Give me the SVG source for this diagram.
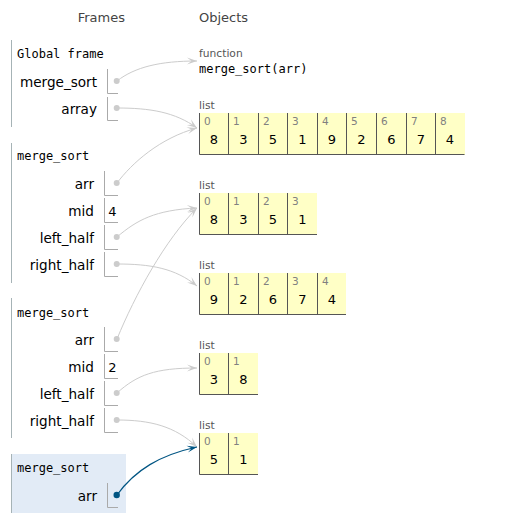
<svg xmlns="http://www.w3.org/2000/svg" width="532" height="518" viewBox="0 0 532 518">
<style>
.hdr{font-family:"DejaVu Sans",Verdana,sans-serif;font-size:13px;fill:#444}
.fname{font-family:"DejaVu Sans Mono","Liberation Mono",monospace;font-size:12px;fill:#000}
.vname{font-family:"DejaVu Sans",Verdana,sans-serif;font-size:13.6px;fill:#000;text-anchor:end}
.val{font-family:"DejaVu Sans",Verdana,sans-serif;font-size:13px;fill:#000}
.fline{stroke:#a6b3b6;stroke-width:1;fill:none}
.box{stroke:#aaaaaa;stroke-width:1;fill:none}
.dot{fill:#cccccc}
.tlabel{font-family:"DejaVu Sans",Verdana,sans-serif;font-size:10.7px;fill:#555}
.code{font-family:"DejaVu Sans Mono","Liberation Mono",monospace;font-size:12px;fill:#000}
.cellbg{fill:#ffffc6}
.cb{stroke:#555555;stroke-width:1;fill:none}
.idx{font-family:"DejaVu Sans",Verdana,sans-serif;font-size:10.5px;fill:#808080}
.cv{font-family:"DejaVu Sans",Verdana,sans-serif;font-size:13px;fill:#000;text-anchor:middle}
.conn{fill:none;stroke:#cccccc;stroke-width:1;marker-end:url(#ah)}
.connA{fill:none;stroke:#005583;stroke-width:1.2;marker-end:url(#ahA)}
</style>
<defs>
<marker id="ah" markerUnits="userSpaceOnUse" markerWidth="12" markerHeight="10" viewBox="-11 -5 12 10" refX="0" refY="0" orient="auto"><path d="M-10,-3.5 L0,0 L-10,3.5 L-5.5,0 z" fill="#cccccc"/></marker>
<marker id="ahA" markerUnits="userSpaceOnUse" markerWidth="12" markerHeight="10" viewBox="-11 -5 12 10" refX="0" refY="0" orient="auto"><path d="M-10,-3.5 L0,0 L-10,3.5 L-5.5,0 z" fill="#005583"/></marker>
</defs>
<rect width="532" height="518" fill="#ffffff"/>
<text class="hdr" x="77.7" y="21.7">Frames</text>
<text class="hdr" x="199" y="21.7">Objects</text>

<g id="global_frame">
<line class="fline" x1="11.5" y1="40" x2="11.5" y2="127"/>
<text class="fname" x="17" y="57.5">Global frame</text>
<text class="vname" x="97" y="87">merge_sort</text>
<path class="box" d="M107.5,69 V93.5 H118"/>
<circle class="dot" cx="116.7" cy="81" r="3"/>
<text class="vname" x="97" y="114">array</text>
<path class="box" d="M107.5,97 V120.5 H118"/>
<circle class="dot" cx="116.7" cy="108" r="3"/>
</g>

<g id="frame1">
<line class="fline" x1="11.5" y1="143" x2="11.5" y2="283"/>
<text class="fname" x="17" y="160">merge_sort</text>
<text class="vname" x="94" y="188.5">arr</text>
<path class="box" d="M104.5,171 V195.5 H118"/>
<circle class="dot" cx="116.7" cy="183" r="3"/>
<text class="vname" x="94" y="215.5">mid</text>
<path class="box" d="M104.5,198 V222.5 H118"/>
<text class="val" x="108.3" y="215.5">4</text>
<text class="vname" x="94" y="242.5">left_half</text>
<path class="box" d="M104.5,225 V249.5 H118"/>
<circle class="dot" cx="116.7" cy="237" r="3"/>
<text class="vname" x="94" y="269.5">right_half</text>
<path class="box" d="M104.5,252 V276.5 H118"/>
<circle class="dot" cx="116.7" cy="264" r="3"/>
</g>

<g id="frame2">
<line class="fline" x1="11.5" y1="298" x2="11.5" y2="438"/>
<text class="fname" x="17" y="316.5">merge_sort</text>
<text class="vname" x="94" y="344.5">arr</text>
<path class="box" d="M104.5,327 V351.5 H118"/>
<circle class="dot" cx="116.7" cy="339" r="3"/>
<text class="vname" x="94" y="371.5">mid</text>
<path class="box" d="M104.5,354 V378.5 H118"/>
<text class="val" x="108.3" y="371.5">2</text>
<text class="vname" x="94" y="398.5">left_half</text>
<path class="box" d="M104.5,381 V405.5 H118"/>
<circle class="dot" cx="116.7" cy="393" r="3"/>
<text class="vname" x="94" y="425.5">right_half</text>
<path class="box" d="M104.5,408 V432.5 H118"/>
<circle class="dot" cx="116.7" cy="420" r="3"/>
</g>

<g id="frame3">
<rect x="11" y="454" width="115" height="59" fill="#e2ebf6"/>
<line class="fline" x1="11.5" y1="454" x2="11.5" y2="513"/>
<text class="fname" x="17" y="471.5">merge_sort</text>
<text class="vname" x="97" y="500.5">arr</text>
<path class="box" d="M107.5,483 V507.5 H118"/>
<circle cx="116.7" cy="495" r="3.2" fill="#005583"/>
</g>

<g id="func_merge_sort">
<text class="tlabel" x="199" y="56.5">function</text>
<text class="code" x="199" y="73">merge_sort(arr)</text>
</g>

<g id="list1">
<text class="tlabel" x="199" y="108.5">list</text>
<rect class="cellbg" x="199" y="113" width="266" height="42"/>
<path class="cb" d="M199.5,113 V154.5 H464.5 M228.5,113 V154.5 M258.5,113 V154.5 M287.5,113 V154.5 M317.5,113 V154.5 M346.5,113 V154.5 M376.5,113 V154.5 M406.5,113 V154.5 M435.5,113 V154.5"/>
<text class="idx" x="204" y="125">0</text><text class="idx" x="233" y="125">1</text><text class="idx" x="263" y="125">2</text><text class="idx" x="292" y="125">3</text><text class="idx" x="322" y="125">4</text><text class="idx" x="351" y="125">5</text><text class="idx" x="381" y="125">6</text><text class="idx" x="411" y="125">7</text><text class="idx" x="440" y="125">8</text>
<text class="cv" x="214" y="144">8</text><text class="cv" x="243.5" y="144">3</text><text class="cv" x="273" y="144">5</text><text class="cv" x="302.5" y="144">1</text><text class="cv" x="332" y="144">9</text><text class="cv" x="361.5" y="144">2</text><text class="cv" x="391.5" y="144">6</text><text class="cv" x="421" y="144">7</text><text class="cv" x="450" y="144">4</text>
</g>

<g id="list2">
<text class="tlabel" x="199" y="188.5">list</text>
<rect class="cellbg" x="199" y="193" width="118" height="42"/>
<path class="cb" d="M199.5,193 V234.5 H317 M228.5,193 V234.5 M258.5,193 V234.5 M287.5,193 V234.5"/>
<text class="idx" x="204" y="205">0</text><text class="idx" x="233" y="205">1</text><text class="idx" x="263" y="205">2</text><text class="idx" x="292" y="205">3</text>
<text class="cv" x="214" y="224">8</text><text class="cv" x="243.5" y="224">3</text><text class="cv" x="273" y="224">5</text><text class="cv" x="302.5" y="224">1</text>
</g>

<g id="list3">
<text class="tlabel" x="199" y="268.5">list</text>
<rect class="cellbg" x="199" y="273" width="147" height="42"/>
<path class="cb" d="M199.5,273 V314.5 H346 M228.5,273 V314.5 M258.5,273 V314.5 M287.5,273 V314.5 M317.5,273 V314.5"/>
<text class="idx" x="204" y="285">0</text><text class="idx" x="233" y="285">1</text><text class="idx" x="263" y="285">2</text><text class="idx" x="292" y="285">3</text><text class="idx" x="322" y="285">4</text>
<text class="cv" x="214" y="304">9</text><text class="cv" x="243.5" y="304">2</text><text class="cv" x="273" y="304">6</text><text class="cv" x="302.5" y="304">7</text><text class="cv" x="332" y="304">4</text>
</g>

<g id="list4">
<text class="tlabel" x="199" y="348.5">list</text>
<rect class="cellbg" x="199" y="353" width="59" height="42"/>
<path class="cb" d="M199.5,353 V394.5 H258 M228.5,353 V394.5"/>
<text class="idx" x="204" y="365">0</text><text class="idx" x="233" y="365">1</text>
<text class="cv" x="214" y="384">3</text><text class="cv" x="243.5" y="384">8</text>
</g>

<g id="list5">
<text class="tlabel" x="199" y="428.5">list</text>
<rect class="cellbg" x="199" y="433" width="59" height="42"/>
<path class="cb" d="M199.5,433 V474.5 H258 M228.5,433 V474.5"/>
<text class="idx" x="204" y="445">0</text><text class="idx" x="233" y="445">1</text>
<text class="cv" x="214" y="464">5</text><text class="cv" x="243.5" y="464">1</text>
</g>

<g id="connectors">
<path class="conn" d="M117,81 C135,67 160,61 197,61"/>
<path class="conn" d="M117,108 C150,108 175,112 197,128"/>
<path class="conn" d="M117,183 C132,163 160,138 197,128"/>
<path class="conn" d="M117,237 C137,220 155,210 197,208"/>
<path class="conn" d="M117,264 C150,264 175,268 197,286"/>
<path class="conn" d="M117,339 C135,295 165,240 197,208"/>
<path class="conn" d="M117,393 C137,375 155,368 197,368"/>
<path class="conn" d="M117,420 C150,420 175,426 197,447"/>
<path class="connA" d="M117,495 C135,470 160,455 197,447"/>
</g>
</svg>
